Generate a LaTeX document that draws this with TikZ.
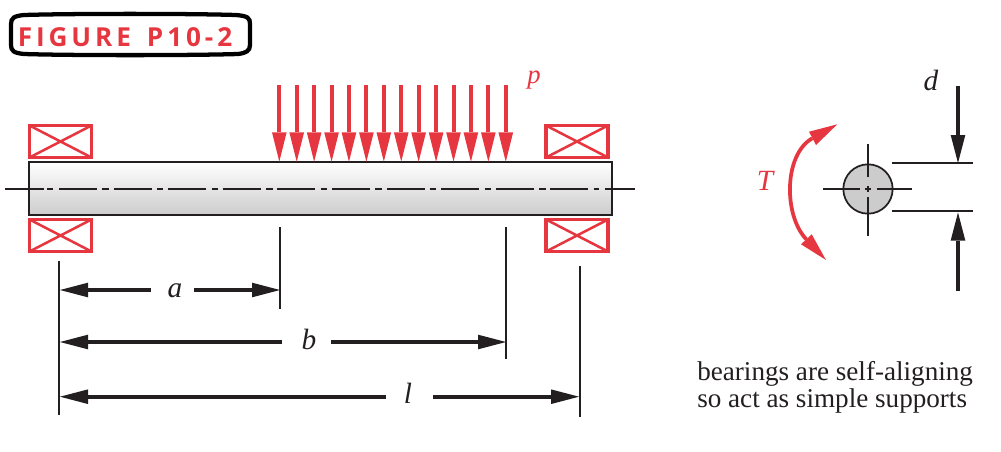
\documentclass[tikz,border=0pt]{standalone}
\usepackage{fontspec}
\setmainfont{Liberation Serif}
\newfontfamily\titlefont{Open Sans}[LetterSpace=15]
\usetikzlibrary{arrows.meta,calc}
\definecolor{redc}{HTML}{E63740}
\definecolor{inkc}{HTML}{231F20}
\tikzset{
  x=0.75pt,y=-0.75pt,
  redarrow/.style={redc,line width=3pt,-{Triangle[length=22pt,width=11pt,line width=0pt]}},
  onetip/.style={inkc,line width=3pt,-{Triangle[length=21pt,width=11pt,line width=0pt]}},
  thin line/.style={inkc,line width=1.3pt},
  bearing/.style={draw=redc,line width=2.6pt,minimum width=46.5pt,minimum height=24pt,inner sep=0pt,path picture={\draw[redc,line width=1.9pt] (path picture bounding box.north west)--(path picture bounding box.south east) (path picture bounding box.south west)--(path picture bounding box.north east);}},
  lab/.style={inkc,font=\fontsize{22}{22}\selectfont\itshape,inner sep=0pt,anchor=base},
  redlab/.style={redc,font=\fontsize{22}{22}\selectfont\itshape,inner sep=0pt,anchor=base},
  centre/.style={inkc,line width=1.5pt,dash pattern=on 28.5pt off 4pt on 4.9pt off 3.55pt},
}
\begin{document}
\begin{tikzpicture}
\useasboundingbox (0,0) rectangle (1001,451);
% title
\node[redc,font=\titlefont\bfseries\fontsize{19.6}{20}\selectfont,inner sep=0pt,anchor=base west] (title) at (17.5,46) {FIGURE\hspace{4pt} P10-2};
\draw[black,line width=3.2pt] (24,15) .. controls (70,13.5) and (190,13.5) .. (236,15) .. controls (248,16) and (250,18) .. (250,24) -- (250,45) .. controls (250,51) and (246,53) .. (238,54) .. controls (190,55.5) and (70,55.5) .. (24,54) .. controls (14,53) and (11,51) .. (11,45) -- (11,24) .. controls (11,18) and (14,16) .. (24,15) -- cycle;
% shaft
\node[draw=inkc,line width=1.75pt,minimum width=437pt,minimum height=39.5pt,inner sep=0pt,top color=white,bottom color=black!20] (shaft) at (320.5,188.5) {};
\coordinate (cl) at (5,188.7); \coordinate (cr) at (635,188.7);
\draw[thin line,line width=1.5pt] (cl)--(44,188.7) (47,188.7)--(53,188.7);
\draw[centre] (59,188.7)--(599,188.7);
\draw[thin line,line width=1.5pt] (605,188.7)--(cr);
% bearings
\node[bearing] (b1) at (60.5,141.5) {};
\node[bearing] (b2) at (60.5,235.5) {};
\node[bearing] (b3) at (577,141.5) {};
\node[bearing] (b4) at (577,235.5) {};
% load
\foreach \i in {0,...,13}{
  \pgfmathsetmacro\xx{279.3+\i*17.42}
  \coordinate (s\i) at (\xx,85); \coordinate (e\i) at (\xx,161.7);
  \draw[redarrow] (s\i)--(e\i);
}
\node[redlab,font=\fontsize{20}{20}\selectfont\itshape] (p) at (534,83) {p};
% extension lines
\coordinate (x0a) at (59,261); \coordinate (x0b) at (59,415);
\coordinate (xaa) at (280,227); \coordinate (xab) at (280,309);
\coordinate (xba) at (506,227); \coordinate (xbb) at (506,359);
\coordinate (xla) at (580,266); \coordinate (xlb) at (580,417);
\draw[thin line] (x0a)--(x0b) (xaa)--(xab) (xba)--(xbb) (xla)--(xlb);
% dims
\node[lab] (a) at (175,297) {a};
\node[lab] (bb) at (309,349) {b};
\node[lab] (l) at (408,403) {l};
\coordinate (a0) at (60,290); \coordinate (a1) at (280,290);
\coordinate (b0) at (60,342); \coordinate (b1x) at (506,342);
\coordinate (l0) at (60,396.7); \coordinate (l1) at (579,396.7);
\coordinate (a0s) at (151,290); \coordinate (a1s) at (194,290);
\coordinate (b0s) at (282,342); \coordinate (b1s) at (331,342);
\coordinate (l0s) at (386,396.7); \coordinate (l1s) at (433,396.7);
\draw[onetip] (a0s)--(a0);
\draw[onetip] (a1s)--(a1);
\draw[onetip] (b0s)--(b0);
\draw[onetip] (b1s)--(b1x);
\draw[onetip] (l0s)--(l0);
\draw[onetip] (l1s)--(l1);
% section
\node[circle,draw=inkc,line width=1.3pt,fill=black!20,minimum size=37pt,inner sep=0pt] (sec) at (868,189) {};
\draw[thin line] (868,144)--(868,177) (868,186)--(868,192) (868,197)--(868,235.5);
\draw[thin line] (823,189)--(860,189) (865,189)--(871,189) (877,189)--(912,189);
\coordinate (d1) at (892,163); \coordinate (d1e) at (973,163);
\coordinate (d2) at (892,211); \coordinate (d2e) at (973,211);
\draw[thin line] (d1)--(d1e) (d2)--(d2e);
\coordinate (du) at (958,86); \coordinate (dd) at (958,291);
\coordinate (dut) at (958,163); \coordinate (ddt) at (958,212.5);
\draw[onetip] (du)--(dut);
\draw[onetip] (dd)--(ddt);
\node[lab] (d) at (931,90) {d};
\node[redlab] (T) at (765,190) {T};
% torque
\draw[redc,line width=2.8pt] (812.3,138.3) .. controls (783.6,154.5) and (783.5,215.5) .. (806.3,239.3);
\fill[redc] (837.3,124.3) -- (809,131.7) -- (816,145) -- cycle;
\fill[redc] (826,260) -- (801,244.3) -- (811.7,234.3) -- cycle;
% note
\node[inkc,font=\fontsize{20.35}{20.2}\selectfont,align=left,inner sep=0pt,anchor=north west] (note) at (697,361) {bearings are self-aligning\\so act as simple supports};
\end{tikzpicture}
\end{document}
